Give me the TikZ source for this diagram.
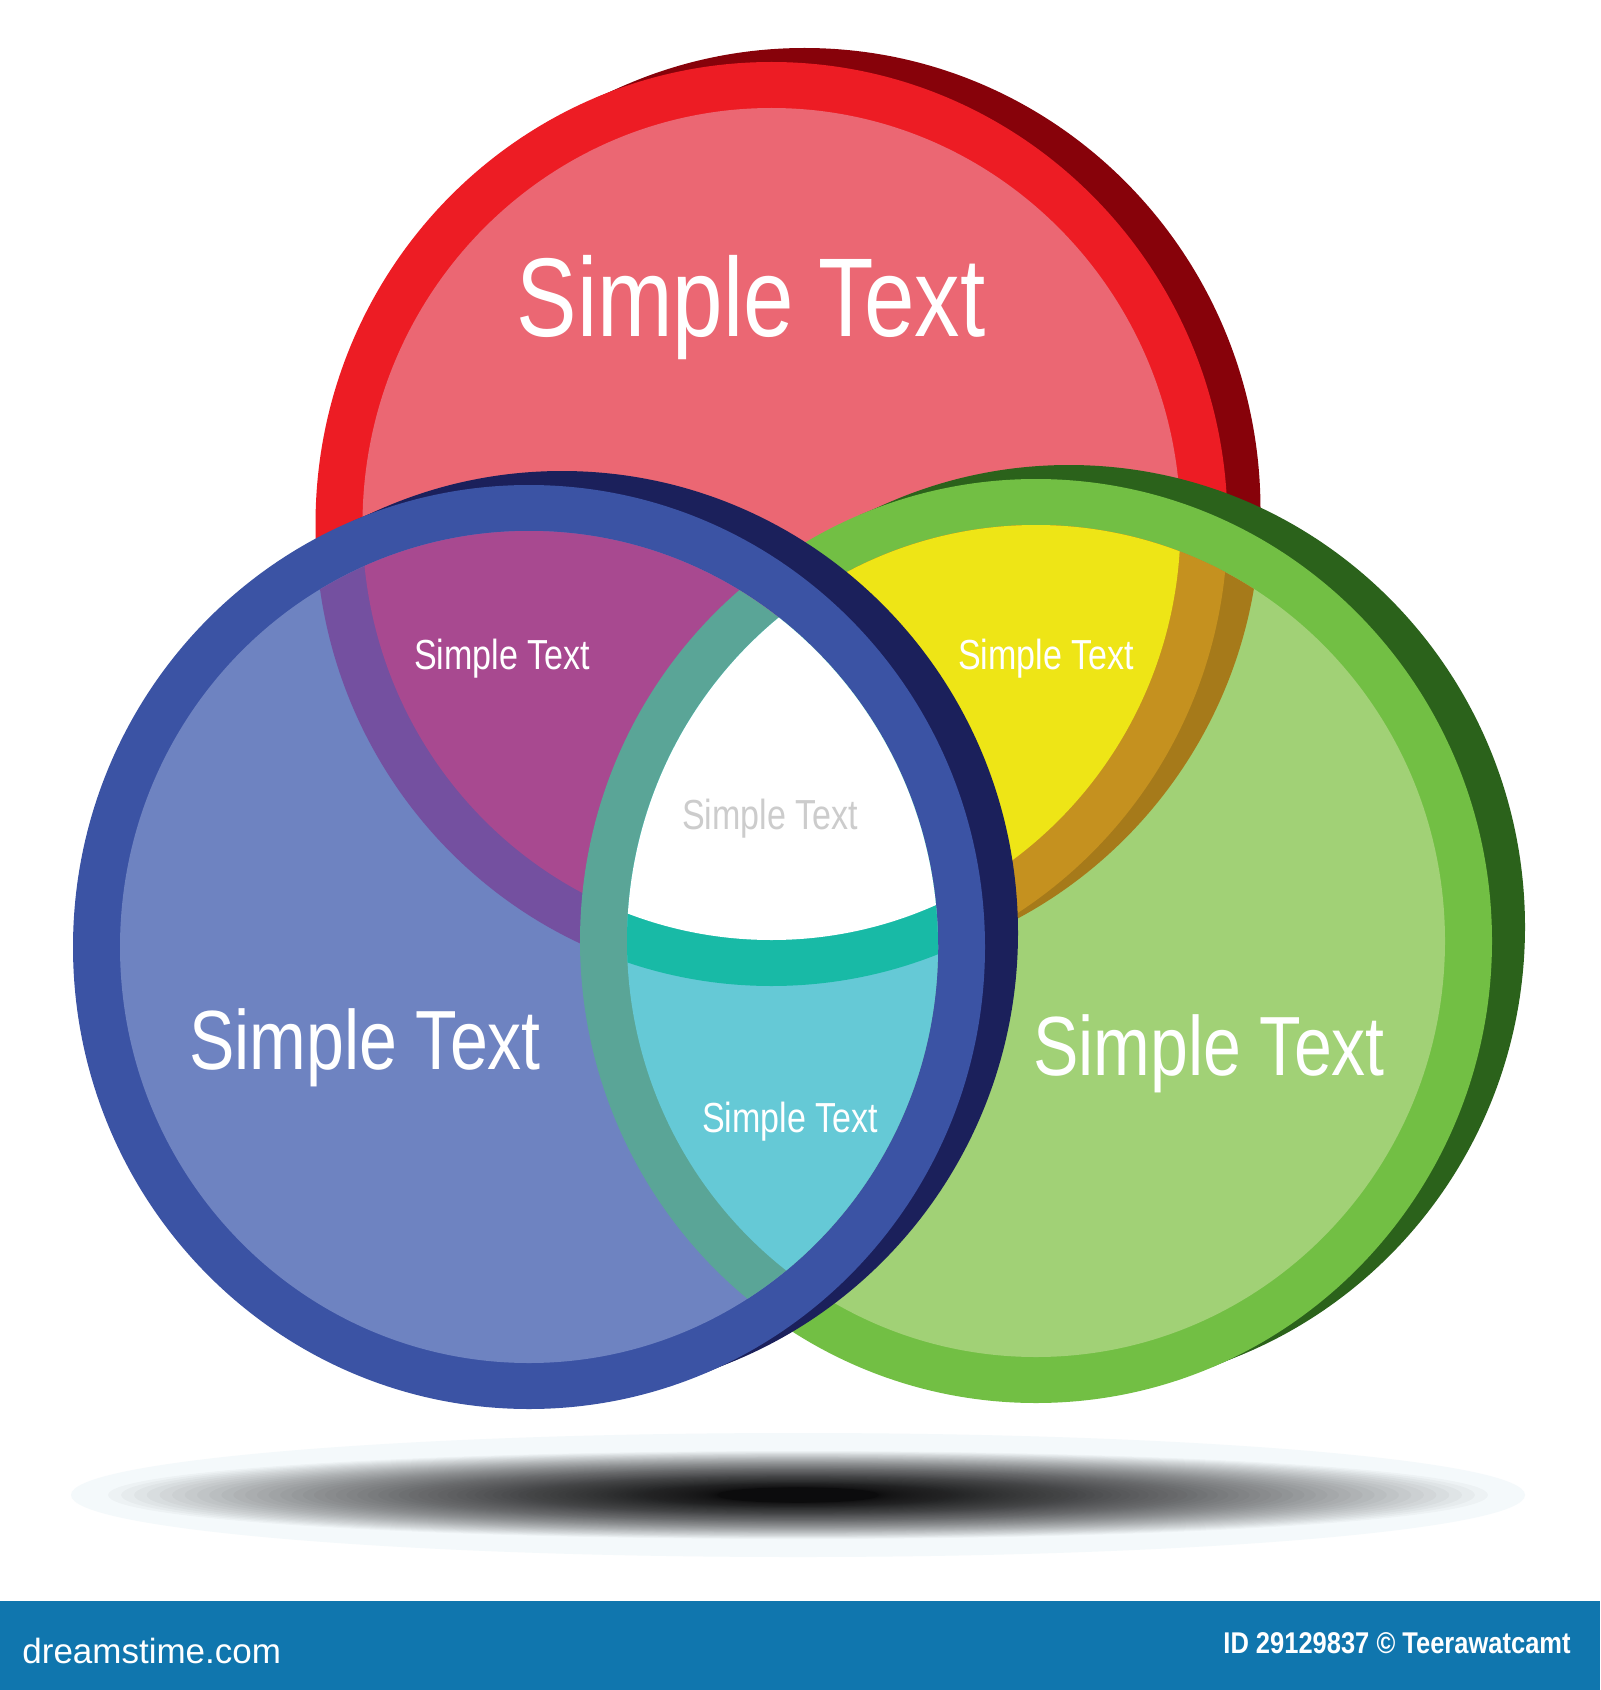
\documentclass[tikz,border=0pt]{standalone}
\usepackage{fontspec}
\setmainfont{Liberation Sans}
\newfontfamily\narrowsans[FakeStretch=0.81]{Liberation Sans}
\newfontfamily\idfont[FakeStretch=0.85]{Liberation Sans}
\definecolor{rring}{HTML}{ED1C24}
\definecolor{rdark}{HTML}{87020A}
\definecolor{rin}{HTML}{EB6773}
\definecolor{bring}{HTML}{3B53A4}
\definecolor{bdark}{HTML}{1B205B}
\definecolor{bin}{HTML}{6E83C1}
\definecolor{gring}{HTML}{72BF44}
\definecolor{gdark}{HTML}{2B621B}
\definecolor{gin}{HTML}{A1D176}
\definecolor{purp}{HTML}{A84990}
\definecolor{dpurp}{HTML}{7450A0}
\definecolor{yel}{HTML}{EEE516}
\definecolor{ochre}{HTML}{C5911F}
\definecolor{dochre}{HTML}{A67A1A}
\definecolor{tgray}{HTML}{5AA597}
\definecolor{cyanin}{HTML}{65C9D6}
\definecolor{tealband}{HTML}{18BAA6}
\definecolor{footer}{HTML}{1076AE}
\definecolor{halo}{HTML}{F4F9FB}
\definecolor{midtext}{HTML}{CCCCCC}
\tikzset{
  ro/.style={x radius=456, y radius=462},
  ri/.style={x radius=409, y radius=416},
  bigtxt/.style={text=white, inner sep=0, anchor=base, font=\narrowsans\fontsize{42}{46}\selectfont},
  redtxt/.style={text=white, inner sep=0, anchor=base, font=\narrowsans\fontsize{56}{60}\selectfont},
  smalltxt/.style={text=white, inner sep=0, anchor=base, font=\narrowsans\fontsize{21}{24}\selectfont},
  shadowlayer/.style={fill=black, fill opacity=0.026}
}
\begin{document}
\begin{tikzpicture}[x=0.5pt,y=-0.5pt]
\useasboundingbox (0,0) rectangle (1600,1690);
\fill[white] (0,0) rectangle (1600,1690);
% centres
\coordinate (R) at (771.5,524);
\coordinate (Rb) at (804.5,510);
\coordinate (G) at (1036,941);
\coordinate (Gb) at (1069,927);
\coordinate (B) at (529,947);
\coordinate (Bb) at (562,933);
\coordinate (S) at (798,1495);
% shadow
\fill[halo] (S) ellipse [x radius=727, y radius=62];
\foreach \i in {0,...,79} {
  \pgfmathsetmacro{\f}{(1-\i/79)^1.7}
  \fill[shadowlayer] (S) ellipse [x radius={80+610*\f}, y radius={7+37*\f}];
}
% red disk
\fill[rdark] (Rb) ellipse [ro];
\fill[rdark] (947.5,950) -- (980.5,936) -- (628.5,84) -- (595.5,98) -- cycle;
\fill[rring] (R) ellipse [ro];
\fill[rin] (R) ellipse [ri];
% green disk
\fill[gdark] (Gb) ellipse [ro];
\fill[gdark] (1212,1367) -- (1245,1353) -- (893,501) -- (860,515) -- cycle;
\fill[gring] (G) ellipse [ro];
\fill[gin] (G) ellipse [ri];
\begin{scope}
  \clip (G) ellipse [ri];
  \fill[dochre] (Rb) ellipse [ro];
  \fill[dochre] (947.5,950) -- (980.5,936) -- (628.5,84) -- (595.5,98) -- cycle;
  \fill[ochre] (R) ellipse [ro];
  \fill[yel] (R) ellipse [ri];
\end{scope}
% blue disk
\fill[bdark] (Bb) ellipse [ro];
\fill[bdark] (705,1373) -- (738,1359) -- (386,507) -- (353,521) -- cycle;
\fill[bring] (B) ellipse [ro];
\fill[bin] (B) ellipse [ri];
\begin{scope}
  \clip (B) ellipse [ri];
  \fill[dpurp] (R) ellipse [ro];
  \fill[purp] (R) ellipse [ri];
  \fill[tgray] (G) ellipse [ro];
  \fill[cyanin] (G) ellipse [ri];
  \begin{scope}
    \clip (G) ellipse [ri];
    \fill[tealband] (R) ellipse [ro];
    \fill[white] (R) ellipse [ri];
  \end{scope}
\end{scope}
% texts
\node[redtxt] (tred) at (751,336) {Simple Text};
\node[bigtxt] (tblue) at (365,1069) {Simple Text};
\node[bigtxt] (tgreen) at (1209,1075) {Simple Text};
\node[smalltxt] (tpurp) at (502,669) {Simple Text};
\node[smalltxt] (tyel) at (1046,669) {Simple Text};
\node[smalltxt, text=midtext] (tmid) at (770,829) {Simple Text};
\node[smalltxt] (tcyan) at (790,1132) {Simple Text};
% footer
\fill[footer] (0,1601) rectangle (1600,1690);
\node[text=white, inner sep=0, anchor=base west, font=\fontsize{17.5}{20}\selectfont] (ds) at (22,1663) {dreamstime.com};
\node[text=white, inner sep=0, anchor=base east, font=\idfont\bfseries\fontsize{15}{18}\selectfont] (id) at (1571,1653) {ID 29129837 © Teerawatcamt};
\end{tikzpicture}
\end{document}
